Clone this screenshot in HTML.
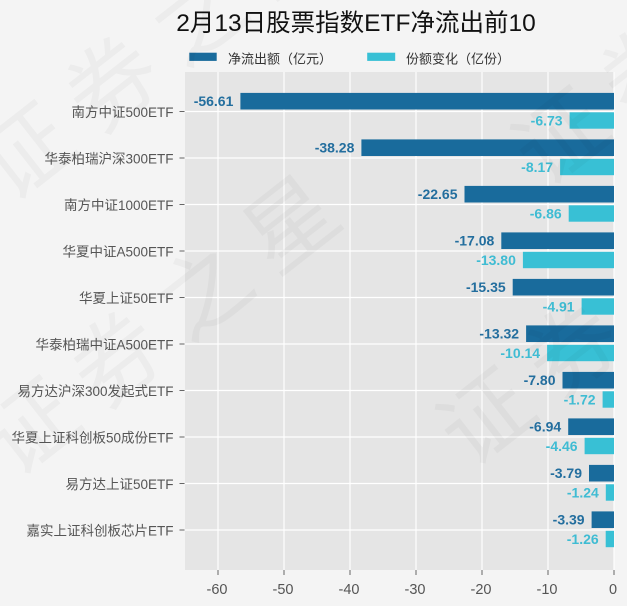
<!DOCTYPE html>
<html>
<head>
<meta charset="utf-8">
<style>
  html,body{margin:0;padding:0;background:#f4f4f4;}
  body{width:627px;height:606px;overflow:hidden;}
  svg{display:block;overflow:hidden;}
  text{font-family:"Liberation Sans","Noto Sans CJK SC",sans-serif;}
</style>
</head>
<body>
<svg width="627" height="606" viewBox="0 0 627 606" xmlns="http://www.w3.org/2000/svg">
  <defs>
    <clipPath id="pg"><rect x="0" y="0" width="627" height="606"/></clipPath>
  </defs>
  <rect x="0" y="0" width="627" height="606" fill="#f4f4f4"/>

  <!-- panel -->
  <rect x="185" y="72" width="429" height="498" fill="#e5e5e5"/>

  <!-- vertical grid -->
  <g stroke="#ffffff" stroke-width="1.2">
    <line x1="218" y1="72" x2="218" y2="570"/>
    <line x1="284" y1="72" x2="284" y2="570"/>
    <line x1="350" y1="72" x2="350" y2="570"/>
    <line x1="416" y1="72" x2="416" y2="570"/>
    <line x1="482" y1="72" x2="482" y2="570"/>
    <line x1="548" y1="72" x2="548" y2="570"/>
    <line x1="614" y1="72" x2="614" y2="570"/>
  </g>
  <!-- horizontal grid -->
  <g stroke="#ffffff" stroke-width="1.2">
    <line x1="185" y1="111.5" x2="614" y2="111.5"/>
    <line x1="185" y1="158" x2="614" y2="158"/>
    <line x1="185" y1="204.5" x2="614" y2="204.5"/>
    <line x1="185" y1="251" x2="614" y2="251"/>
    <line x1="185" y1="297.5" x2="614" y2="297.5"/>
    <line x1="185" y1="344" x2="614" y2="344"/>
    <line x1="185" y1="390.5" x2="614" y2="390.5"/>
    <line x1="185" y1="437" x2="614" y2="437"/>
    <line x1="185" y1="483.5" x2="614" y2="483.5"/>
    <line x1="185" y1="530" x2="614" y2="530"/>
  </g>

  <!-- blue bars -->
  <g fill="#196b9c">
    <rect x="240.4" y="92.9" width="373.6" height="16.6"/>
    <rect x="361.4" y="139.4" width="252.6" height="16.6"/>
    <rect x="464.5" y="185.9" width="149.5" height="16.6"/>
    <rect x="501.3" y="232.4" width="112.7" height="16.6"/>
    <rect x="512.7" y="278.9" width="101.3" height="16.6"/>
    <rect x="526.1" y="325.4" width="87.9" height="16.6"/>
    <rect x="562.5" y="371.9" width="51.5" height="16.6"/>
    <rect x="568.2" y="418.4" width="45.8" height="16.6"/>
    <rect x="589.0" y="464.9" width="25.0" height="16.6"/>
    <rect x="591.6" y="511.4" width="22.4" height="16.6"/>
  </g>
  <!-- cyan bars -->
  <g fill="#38c0d5">
    <rect x="569.6" y="112.3" width="44.4" height="16.4"/>
    <rect x="560.1" y="158.8" width="53.9" height="16.4"/>
    <rect x="568.7" y="205.3" width="45.3" height="16.4"/>
    <rect x="522.9" y="251.8" width="91.1" height="16.4"/>
    <rect x="581.6" y="298.3" width="32.4" height="16.4"/>
    <rect x="547.1" y="344.8" width="66.9" height="16.4"/>
    <rect x="602.6" y="391.3" width="11.4" height="16.4"/>
    <rect x="584.6" y="437.8" width="29.4" height="16.4"/>
    <rect x="605.8" y="484.3" width="8.2" height="16.4"/>
    <rect x="605.7" y="530.8" width="8.3" height="16.4"/>
  </g>

  <!-- blue value labels -->
  <g fill="#236e9e" font-size="14" font-weight="bold" text-anchor="end">
    <text x="233.4" y="106.2">-56.61</text>
    <text x="354.4" y="152.7">-38.28</text>
    <text x="457.5" y="199.2">-22.65</text>
    <text x="494.3" y="245.7">-17.08</text>
    <text x="505.7" y="292.2">-15.35</text>
    <text x="519.1" y="338.7">-13.32</text>
    <text x="555.5" y="385.2">-7.80</text>
    <text x="561.2" y="431.7">-6.94</text>
    <text x="582.0" y="478.2">-3.79</text>
    <text x="584.6" y="524.7">-3.39</text>
  </g>
  <!-- cyan value labels -->
  <g fill="#3fbcd3" font-size="14" font-weight="bold" text-anchor="end">
    <text x="562.6" y="125.5">-6.73</text>
    <text x="553.1" y="172">-8.17</text>
    <text x="561.7" y="218.5">-6.86</text>
    <text x="515.9" y="265">-13.80</text>
    <text x="574.6" y="311.5">-4.91</text>
    <text x="540.1" y="358">-10.14</text>
    <text x="595.6" y="404.5">-1.72</text>
    <text x="577.6" y="451">-4.46</text>
    <text x="598.8" y="497.5">-1.24</text>
    <text x="598.7" y="544">-1.26</text>
  </g>

  <!-- y ticks -->
  <g stroke="#666" stroke-width="1">
    <line x1="179.5" y1="111.5" x2="184.5" y2="111.5"/>
    <line x1="179.5" y1="158" x2="184.5" y2="158"/>
    <line x1="179.5" y1="204.5" x2="184.5" y2="204.5"/>
    <line x1="179.5" y1="251" x2="184.5" y2="251"/>
    <line x1="179.5" y1="297.5" x2="184.5" y2="297.5"/>
    <line x1="179.5" y1="344" x2="184.5" y2="344"/>
    <line x1="179.5" y1="390.5" x2="184.5" y2="390.5"/>
    <line x1="179.5" y1="437" x2="184.5" y2="437"/>
    <line x1="179.5" y1="483.5" x2="184.5" y2="483.5"/>
    <line x1="179.5" y1="530" x2="184.5" y2="530"/>
  </g>
  <!-- category labels -->
  <g fill="#555555" font-size="13.5" text-anchor="end">
    <text x="173.5" y="117">南方中证500ETF</text>
    <text x="173.5" y="163.5">华泰柏瑞沪深300ETF</text>
    <text x="173.5" y="210">南方中证1000ETF</text>
    <text x="173.5" y="256.5">华夏中证A500ETF</text>
    <text x="173.5" y="303">华夏上证50ETF</text>
    <text x="173.5" y="349.5">华泰柏瑞中证A500ETF</text>
    <text x="173.5" y="396">易方达沪深300发起式ETF</text>
    <text x="173.5" y="442.5">华夏上证科创板50成份ETF</text>
    <text x="173.5" y="489">易方达上证50ETF</text>
    <text x="173.5" y="535.5">嘉实上证科创板芯片ETF</text>
  </g>

  <!-- x ticks -->
  <g stroke="#666" stroke-width="1">
    <line x1="218" y1="570" x2="218" y2="575"/>
    <line x1="284" y1="570" x2="284" y2="575"/>
    <line x1="350" y1="570" x2="350" y2="575"/>
    <line x1="416" y1="570" x2="416" y2="575"/>
    <line x1="482" y1="570" x2="482" y2="575"/>
    <line x1="548" y1="570" x2="548" y2="575"/>
    <line x1="614" y1="570" x2="614" y2="575"/>
  </g>
  <g fill="#555555" font-size="14.5" text-anchor="middle">
    <text x="217" y="594">-60</text>
    <text x="283" y="594">-50</text>
    <text x="349" y="594">-40</text>
    <text x="415" y="594">-30</text>
    <text x="481" y="594">-20</text>
    <text x="547" y="594">-10</text>
    <text x="613" y="594">0</text>
  </g>

  <!-- title -->
  <text x="356" y="31" font-size="24.5" fill="#111111" text-anchor="middle">2月13日股票指数ETF净流出前10</text>

  <!-- legend -->
  <rect x="189.3" y="52.7" width="27.4" height="8.2" fill="#196b9c"/>
  <text x="228" y="63.5" font-size="13" fill="#333333">净流出额（亿元）</text>
  <rect x="367.2" y="52.7" width="28" height="8.2" fill="#38c0d5"/>
  <text x="406" y="63.5" font-size="13" fill="#333333">份额变化（亿份）</text>

  <!-- watermark -->
  <g clip-path="url(#pg)" fill="#000000" fill-opacity="0.03" font-size="90" letter-spacing="20">
    <text transform="translate(10,205) rotate(-38)">证券之星</text>
    <text transform="translate(15,480) rotate(-38)">证券之星</text>
    <text transform="translate(470,470) rotate(-38)">证券</text>
    <text transform="translate(545,190) rotate(-38)">证券</text>
  </g>
</svg>
</body>
</html>
